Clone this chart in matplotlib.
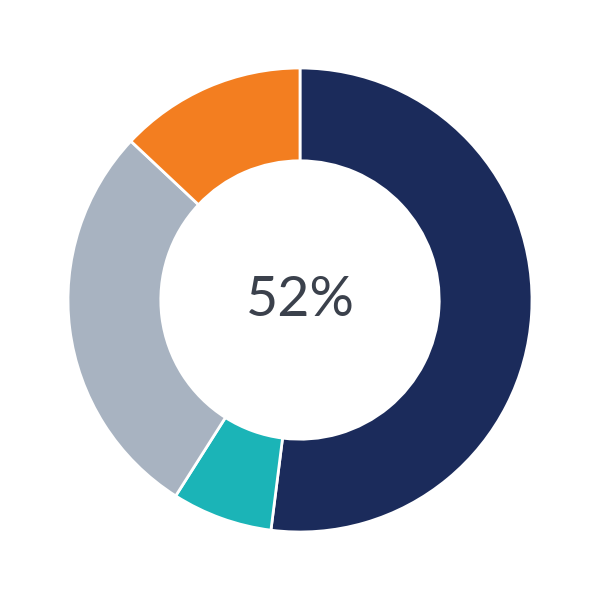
import matplotlib
matplotlib.use('Agg')
import matplotlib.pyplot as plt

labels = ['Navy', 'Teal', 'Gray', 'Orange']
values = [52, 7, 28, 13]
colors = ['#1b2b5b', '#1bb4b7', '#a8b3c1', '#f37e20']
center_label = '52%'

fig = plt.figure(figsize=(6, 6), dpi=100)
ax = fig.add_axes([0, 0, 1, 1])

ax.pie(values, colors=colors, startangle=90, counterclock=False,
       radius=1.0,
       wedgeprops=dict(width=0.4, edgecolor='white', linewidth=2))

ax.text(0, 0, center_label, ha='center', va='center',
        fontsize=40, color='#3b414c', family=['Lato', 'DejaVu Sans'])

lim = 300 / 232
ax.set_xlim(-lim, lim)
ax.set_ylim(-lim, lim)
ax.set_aspect('equal')
ax.axis('off')

fig.savefig('out.png', dpi=100, facecolor='white')
